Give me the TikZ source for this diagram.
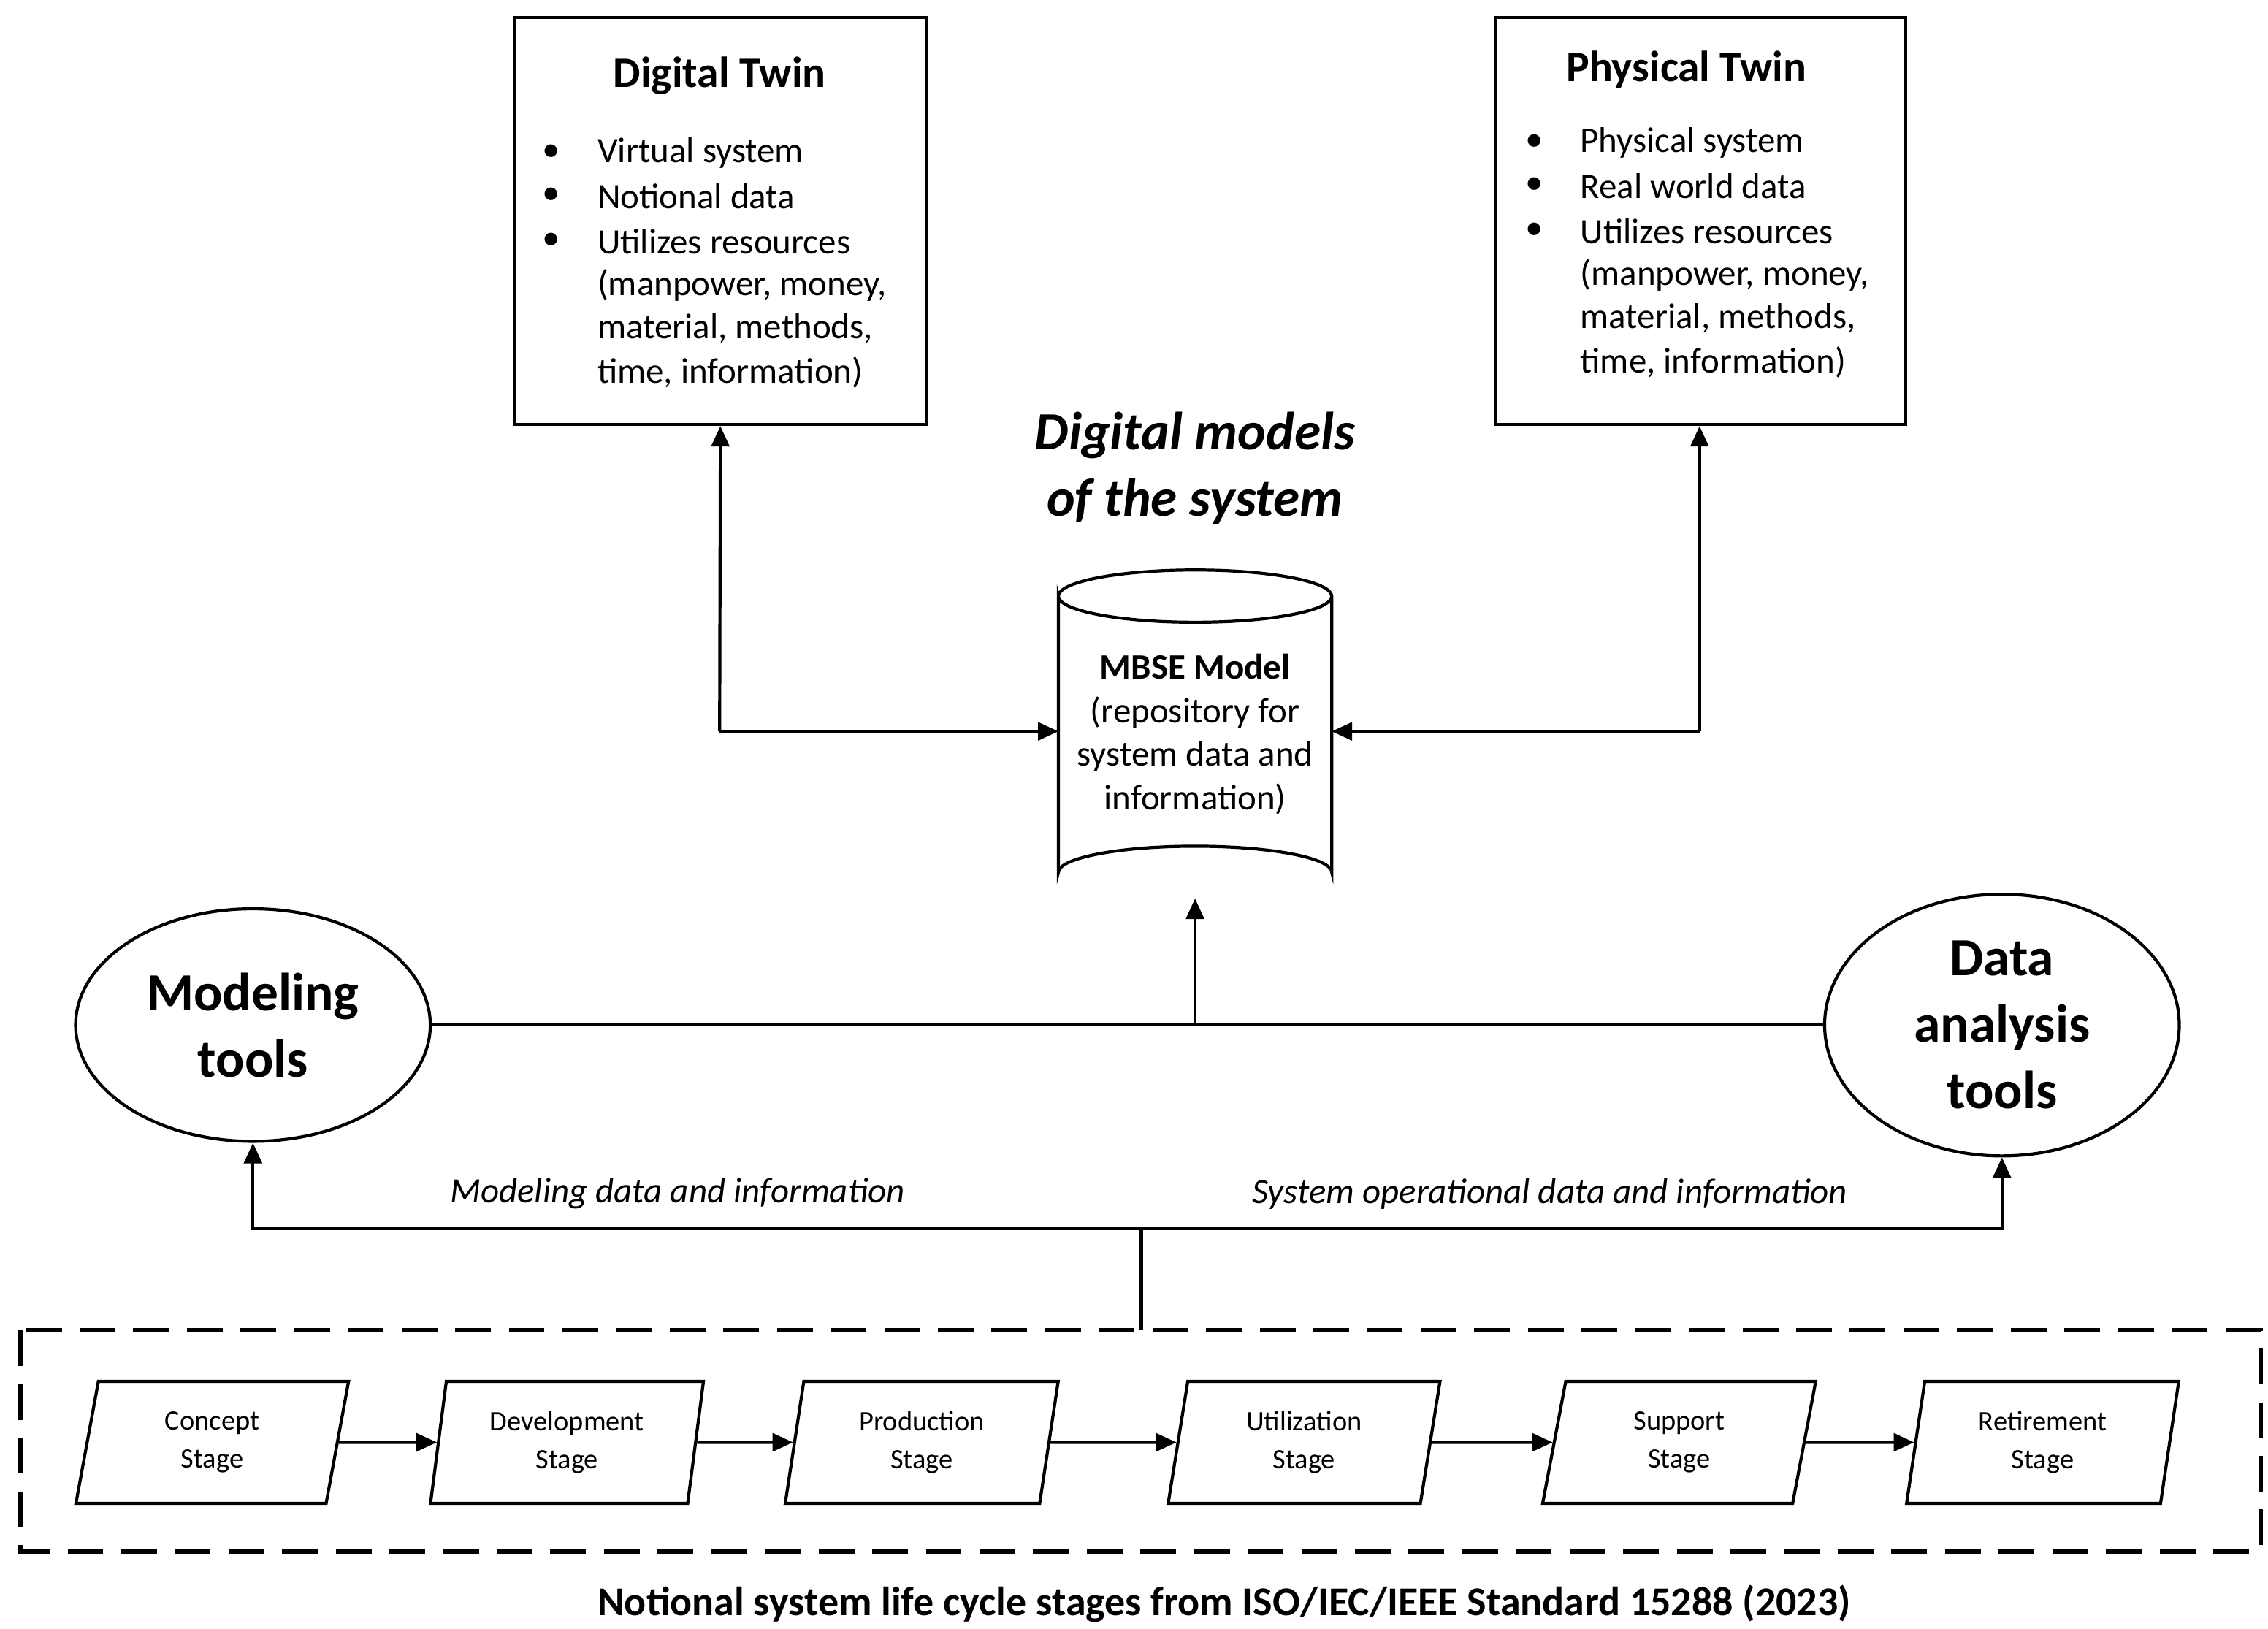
\documentclass[tikz,border=0pt]{standalone}
\usepackage{fontspec}
\setmainfont{Carlito}
\usetikzlibrary{arrows.meta,shapes.geometric}
\begin{document}
\begin{tikzpicture}[x=0.02cm,y=-0.02cm,line width=1.2pt,
  arr/.style={-{Triangle[length=8pt,width=7pt]}},
  body/.style={font=\fontsize{14}{17}\selectfont,anchor=west,inner sep=0},
  ttl/.style={font=\fontsize{17}{20}\selectfont\bfseries,inner sep=0},
  big/.style={font=\fontsize{21}{26}\selectfont\bfseries,align=center},
  stage/.style={draw,trapezium,trapezium left angle=82,trapezium right angle=98,
    trapezium stretches=true,minimum width=3.76cm,minimum height=1.68cm,
    align=center,font=\fontsize{11}{15}\selectfont},
  lbl/.style={font=\fontsize{14}{17}\selectfont\itshape,inner sep=0}]
\useasboundingbox (0,0) rectangle (1560,1120);
% Digital twin
\node[draw,minimum width=5.66cm,minimum height=5.6cm] (dt) at (495.5,152) {};
\node[ttl] (dtt) at (495,52) {Digital Twin};
\foreach \t/\y [count=\i] in {{Virtual system}/105,{Notional data}/135,{Utilizes resources}/166}{
  \node[body] (dtb\i) at (372,\y) {\textbullet};
  \node[body] (dtl\i) at (410,\y) {\t};}
\foreach \t/\y [count=\i] in {{(manpower, money,}/196,{material, methods,}/226,{time, information)}/256}{
  \node[body] (dtc\i) at (410,\y) {\t};}
% Physical twin
\node[draw,minimum width=5.64cm,minimum height=5.6cm] (pt) at (1170,152) {};
\node[ttl] (ptt) at (1160,48) {Physical Twin};
\foreach \t/\y [count=\i] in {{Physical system}/98,{Real world data}/128,{Utilizes resources}/159}{
  \node[body] (ptb\i) at (1048,\y) {\textbullet};
  \node[body] (ptl\i) at (1086,\y) {\t};}
\foreach \t/\y [count=\i] in {{(manpower, money,}/189,{material, methods,}/219,{time, information)}/249}{
  \node[body] (ptc\i) at (1086,\y) {\t};}
% Digital models
\node[font=\fontsize{21}{26}\selectfont\bfseries\itshape,align=center] (dm) at (822,322)
  {Digital models\\of the system};
% Cylinder
\draw (728,410) arc[start angle=180,end angle=360,x radius=94,y radius=18]
      arc[start angle=0,end angle=180,x radius=94,y radius=18] -- (728,600)
      arc[start angle=180,end angle=360,x radius=94,y radius=18] -- (916,410);
\coordinate (cylL) at (728,503);
\coordinate (cylR) at (916,503);
\coordinate (cylB) at (822,618);
\node[font=\fontsize{14}{17}\selectfont,align=center] (mbse) at (822,505)
  {\textbf{MBSE Model}\\(repository for\\system data and\\information)};
% links to twins
\coordinate (dtj) at (495,503);
\coordinate (ptj) at (1169,503);
\draw[arr] (dtj) -- (dt.south);
\draw[arr] (dtj) -- (cylL);
\draw[arr] (ptj) -- (pt.south -| ptj);
\draw[arr] (ptj) -- (cylR);
% tools
\node[draw,ellipse,minimum width=4.88cm,minimum height=3.2cm,big] (mt) at (174,705) {Modeling\\tools};
\node[draw,ellipse,minimum width=4.88cm,minimum height=3.2cm,big] (da) at (1377,705) {Data\\analysis\\tools};
\coordinate (mid) at (822,705);
\draw (mt) -- (da);
\draw[arr] (mid) -- (cylB);
% life cycle
\draw[dash pattern=on 14pt off 7pt,line width=1.8pt] (14,915) rectangle (1555,1067);
\coordinate (lc) at (785,915);
\coordinate (lcj) at (785,845);
\coordinate (lcl) at (174,845);
\coordinate (lcr) at (1377,845);
\draw (lc) -- (lcj);
\draw[arr] (lcj) -- (lcl) -- (mt.south);
\draw[arr] (lcj) -- (lcr) -- (da.south);
\node[lbl] (ml) at (466,821) {Modeling data and information};
\node[lbl] (sl) at (1066,821) {System operational data and information};
\foreach \n/\x/\t in {s1/146/Concept,s2/390/Development,s3/634/Production,s4/897/Utilization,s5/1155/Support,s6/1405/Retirement}
  \node[stage] (\n) at (\x,992) {\t\\Stage};
\foreach \a/\b in {s1/s2,s2/s3,s3/s4,s4/s5,s5/s6}
  \draw[arr] (\a) -- (\b);
\node[font=\fontsize{16}{19}\selectfont\bfseries] (cap) at (842,1103)
  {Notional system life cycle stages from ISO/IEC/IEEE Standard 15288 (2023)};
\end{tikzpicture}
\end{document}
